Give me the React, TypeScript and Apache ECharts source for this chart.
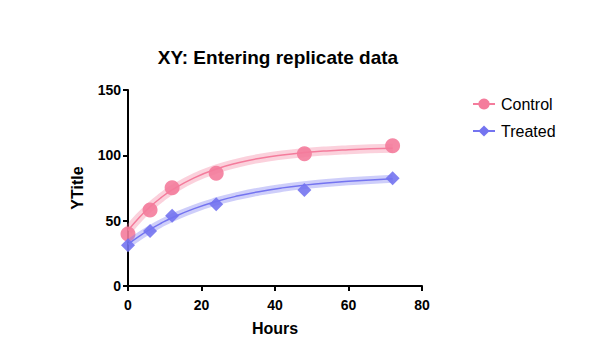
import React, { useEffect, useRef } from "react";
import * as echarts from "echarts";

const hours = [0, 6, 12, 24, 48, 72];
const controlValues = [39.8, 58.2, 75.2, 86.2, 101.3, 107.4];
const treatedValues = [31.1, 42.1, 53.8, 62.5, 73.5, 82.4];

const fitHours = [0, 3, 6, 9, 12, 18, 24, 30, 36, 42, 48, 54, 60, 66, 72];
const controlFit = [42.5, 52.3, 60.6, 67.6, 73.5, 82.8, 89.5, 94.3, 97.8, 100.3, 102.1, 103.4, 104.3, 105.0, 105.5];
const treatedFit = [32.0, 38.0, 43.3, 48.0, 52.2, 59.2, 64.7, 69.0, 72.4, 75.1, 77.2, 78.9, 80.2, 81.2, 82.0];

const xTicks = [0, 20, 40, 60, 80];
const yTicks = [0, 50, 100, 150];

const PINK = "#F47C9C";
const BLUE = "#7474F0";

function pairs(xs: number[], ys: number[]) {
  return xs.map((x, i) => [x, ys[i]]);
}

export default function App() {
  const ref = useRef<HTMLDivElement>(null);
  useEffect(() => {
    if (!ref.current) return;
    const chart = echarts.init(ref.current, null, { renderer: "svg" });
    const font = "Arial, 'Liberation Sans', sans-serif";
    chart.setOption({
      animation: false,
      backgroundColor: "#ffffff",
      title: {
        text: "XY: Entering replicate data",
        left: 273,
        top: 43,
        textAlign: "center",
        textStyle: { fontFamily: font, fontSize: 19, fontWeight: "bold", color: "#000" },
      },
      legend: {
        data: ["Control", "Treated"],
        orient: "vertical",
        left: 467,
        top: 91,
        itemWidth: 22,
        itemHeight: 14,
        itemGap: 11,
        textStyle: { fontFamily: font, fontSize: 16, color: "#000", padding: [0, 0, 0, 1] },
      },
      grid: { left: 128, top: 90, width: 294, height: 196, containLabel: false },
      xAxis: {
        type: "value",
        min: 0,
        max: 80,
        interval: 20,
        name: "Hours",
        nameLocation: "middle",
        nameGap: 34,
        nameTextStyle: { fontFamily: font, fontSize: 16, fontWeight: "bold", color: "#000" },
        axisLine: { show: true, onZero: false, lineStyle: { color: "#000", width: 2 } },
        axisTick: { show: true, length: 5, lineStyle: { color: "#000", width: 2 } },
        axisLabel: {
          fontFamily: font, fontSize: 14, fontWeight: "bold", color: "#000", margin: 12,
          formatter: (v: number) => (xTicks.includes(v) ? String(v) : ""),
        },
        splitLine: { show: false },
      },
      yAxis: {
        type: "value",
        min: 0,
        max: 150,
        interval: 50,
        name: "YTitle",
        nameLocation: "middle",
        nameGap: 43,
        nameTextStyle: { fontFamily: font, fontSize: 16, fontWeight: "bold", color: "#000" },
        axisLine: { show: true, onZero: false, lineStyle: { color: "#000", width: 2 } },
        axisTick: { show: true, length: 5, lineStyle: { color: "#000", width: 2 } },
        axisLabel: {
          fontFamily: font, fontSize: 14, fontWeight: "bold", color: "#000", margin: 7,
          formatter: (v: number) => (yTicks.includes(v) ? String(v) : ""),
        },
        splitLine: { show: false },
      },
      series: [
        {
          name: "Control band",
          type: "line",
          data: pairs(fitHours, controlFit),
          smooth: true,
          showSymbol: false,
          silent: true,
          lineStyle: { color: PINK, width: 9, opacity: 0.35 },
        },
        {
          name: "Treated band",
          type: "line",
          data: pairs(fitHours, treatedFit),
          smooth: true,
          showSymbol: false,
          silent: true,
          lineStyle: { color: BLUE, width: 8, opacity: 0.35 },
        },
        {
          name: "Control",
          type: "line",
          data: pairs(fitHours, controlFit),
          smooth: true,
          symbol: "circle",
          symbolSize: 13,
          showSymbol: false,
          itemStyle: { color: PINK },
          lineStyle: { color: PINK, width: 1.5 },
        },
        {
          name: "Treated",
          type: "line",
          data: pairs(fitHours, treatedFit),
          smooth: true,
          symbol: "diamond",
          symbolSize: 13,
          showSymbol: false,
          itemStyle: { color: BLUE },
          lineStyle: { color: BLUE, width: 1.5 },
        },
        {
          name: "Control",
          type: "scatter",
          data: pairs(hours, controlValues),
          symbol: "circle",
          symbolSize: 15,
          itemStyle: { color: PINK, opacity: 0.9 },
        },
        {
          name: "Treated",
          type: "scatter",
          data: pairs(hours, treatedValues),
          symbol: "diamond",
          symbolSize: 14,
          itemStyle: { color: BLUE, opacity: 0.9 },
        },
      ],
    });
    return () => chart.dispose();
  }, []);
  return (
    <div
      ref={ref}
      style={{ position: "fixed", left: 0, top: 0, width: 600, height: 353 }}
    />
  );
}
